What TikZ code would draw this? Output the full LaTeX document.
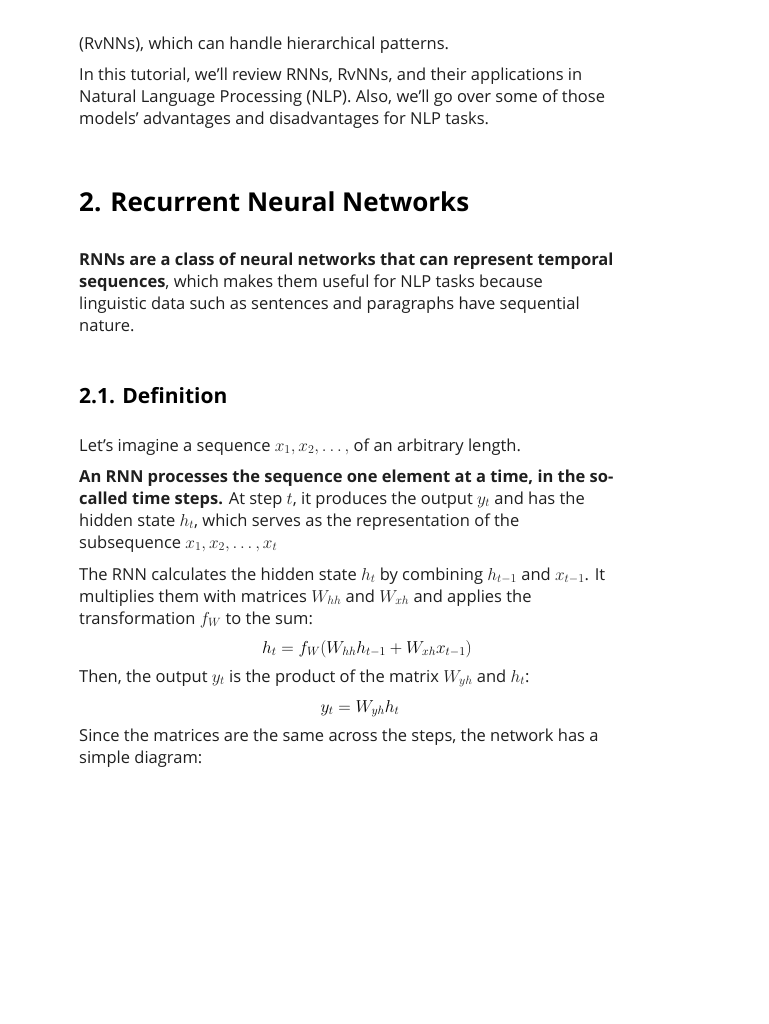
\documentclass[tikz,border=0pt]{standalone}
\usepackage{fontspec}
\setmainfont{Open Sans}
\begin{document}
\begin{tikzpicture}[x=1pt,y=-1pt,
  txt/.style={anchor=west,inner sep=0pt,text height=12pt,text depth=4pt,font=\fontsize{16.5}{20}\selectfont,text=black!88},
  eqn/.style={anchor=center,inner sep=0pt,text height=12pt,text depth=4pt,font=\fontsize{16.5}{20}\selectfont},
  hA/.style={anchor=west,inner sep=0pt,font=\fontsize{26}{30}\selectfont\bfseries},
  hB/.style={anchor=west,inner sep=0pt,font=\fontsize{21}{25}\selectfont\bfseries}]
\useasboundingbox (0,0) rectangle (768,1024);
\fill[white] (0,0) rectangle (768,1024);
\node[txt] (l1) at (79,46) {(RvNNs), which can handle hierarchical patterns.};
\node[txt] (l2) at (79,77) {In this tutorial, we'll review RNNs, RvNNs, and their applications in};
\node[txt] (l3) at (79,99) {Natural Language Processing (NLP). Also, we'll go over some of those};
\node[txt] (l4) at (79,121) {models' advantages and disadvantages for NLP tasks.};
\node[hA] (h1) at (79,202) {2. Recurrent Neural Networks};
\node[txt] (l5) at (79,261) {\textbf{RNNs are a class of neural networks that can represent temporal}};
\node[txt] (l6) at (79,283) {\textbf{sequences}, which makes them useful for NLP tasks because};
\node[txt] (l7) at (79,305) {linguistic data such as sentences and paragraphs have sequential};
\node[txt] (l8) at (79,327) {nature.};
\node[hB] (h2) at (79,396) {2.1. Definition};
\node[txt] (l9) at (79,447) {Let's imagine a sequence $x_1,x_2,\dots,$ of an arbitrary length.};
\node[txt] (l10) at (79,478) {\textbf{An RNN processes the sequence one element at a time, in the so-}};
\node[txt] (l11) at (79,500) {\textbf{called time steps.} At step $t$, it produces the output $y_t$ and has the};
\node[txt] (l12) at (79,522) {hidden state $h_t$, which serves as the representation of the};
\node[txt] (l13) at (79,544) {subsequence $x_1,x_2,\dots,x_t$};
\node[txt] (l14) at (79,576) {The RNN calculates the hidden state $h_t$ by combining $h_{t-1}$ and $x_{t-1}$. It};
\node[txt] (l15) at (79,598) {multiplies them with matrices $W_{hh}$ and $W_{xh}$ and applies the};
\node[txt] (l16) at (79,620) {transformation $f_W$ to the sum:};
\node[eqn] (e1) at (367,649) {$h_t=f_W(W_{hh}h_{t-1}+W_{xh}x_{t-1})$};
\node[txt] (l17) at (79,678) {Then, the output $y_t$ is the product of the matrix $W_{yh}$ and $h_t$:};
\node[eqn] (e2) at (360,708) {$y_t=W_{yh}h_t$};
\node[txt] (l18) at (79,737) {Since the matrices are the same across the steps, the network has a};
\node[txt] (l19) at (79,759) {simple diagram:};
\end{tikzpicture}
\end{document}
